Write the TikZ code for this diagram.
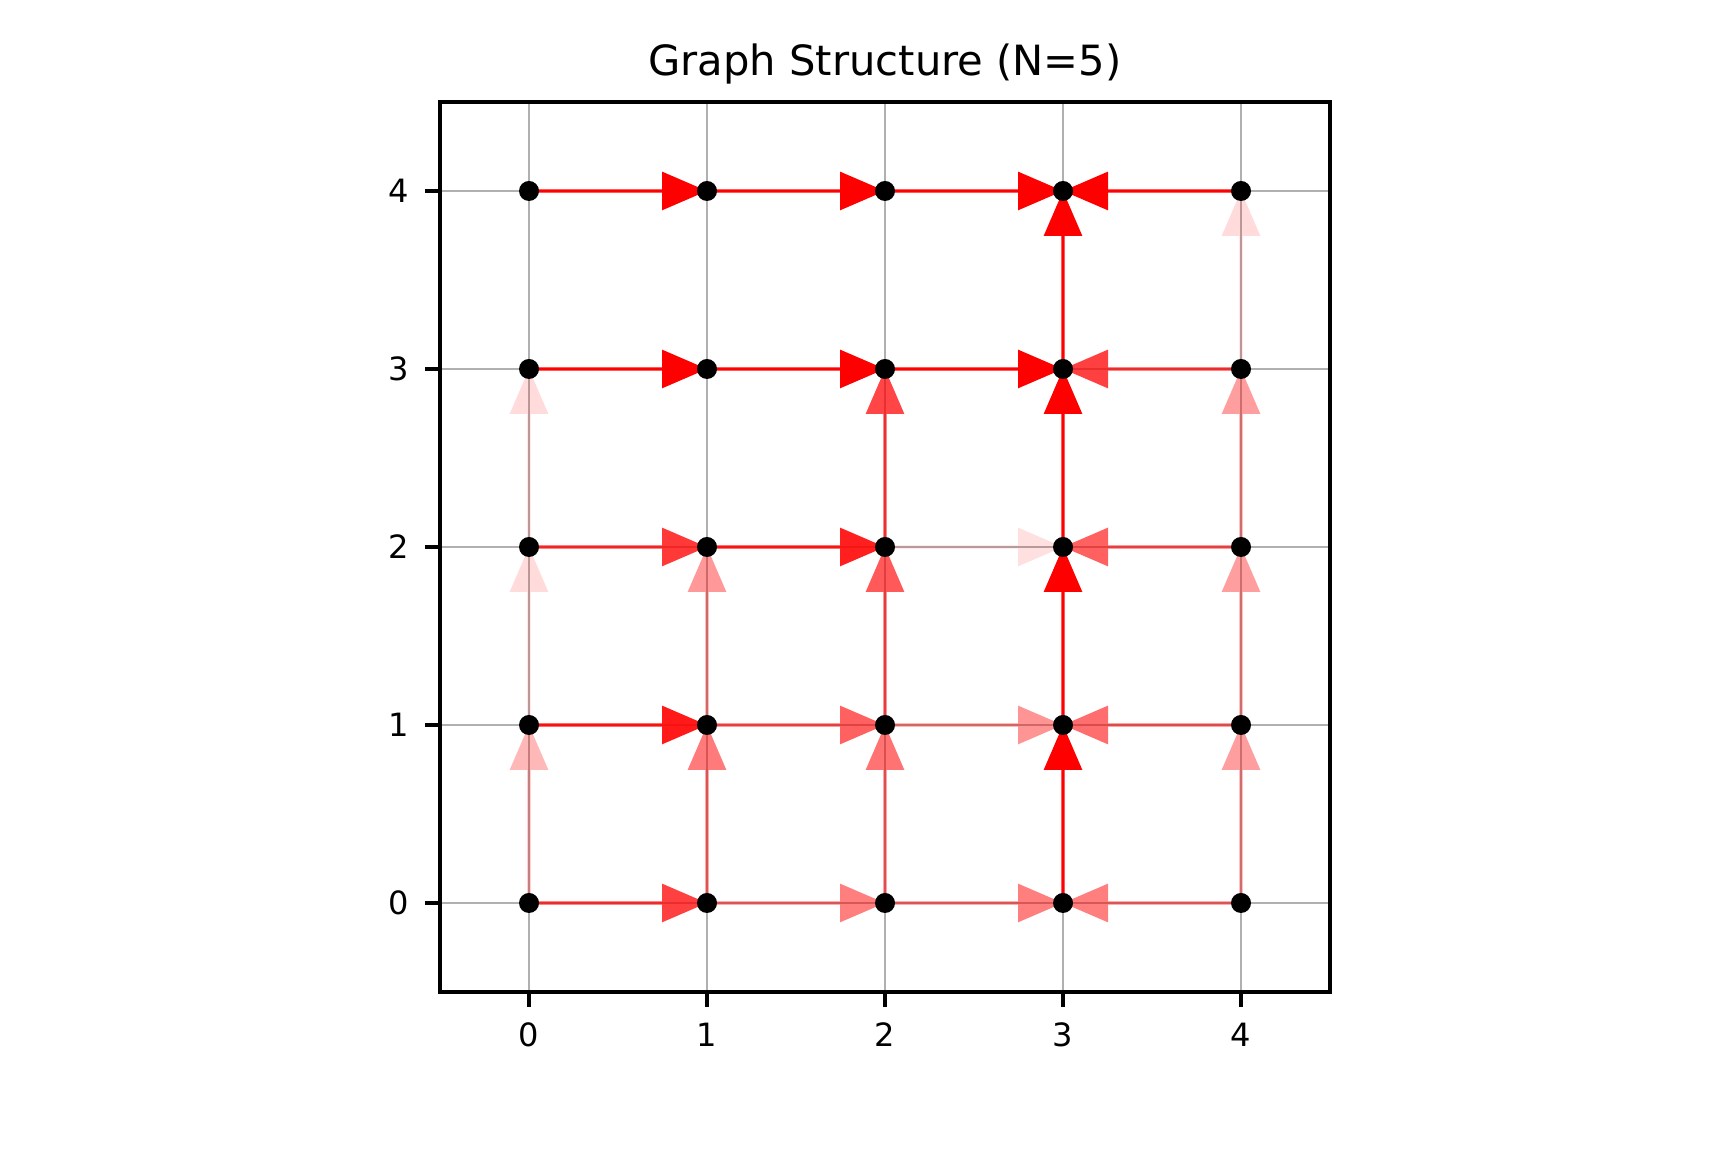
\documentclass[tikz,border=0pt]{standalone}
\usepackage{fontspec}
\setmainfont{DejaVu Sans}
\usetikzlibrary{arrows.meta}

\begin{document}
\begin{tikzpicture}[x=42.72pt, y=42.72pt,
  gridline/.style={line width=0.5pt, color=black!31},
  edge/.style={line width=0.75pt, red, -{Triangle[length=10.8pt, width=9.1pt]}},
  dot/.style={circle, fill=black, inner sep=0pt, minimum size=4.8pt},
  ticklabel/.style={inner sep=0pt, font=\fontsize{7.7}{9}\selectfont}]
\useasboundingbox (-2.972,-1.489) rectangle (6.691,5.073);
% grid points
\foreach \i in {0,...,4}
  \foreach \j in {0,...,4}
    \coordinate (v-\i-\j) at (\i,\j);
% background grid
\foreach \k in {0,...,4} {
  \draw[gridline] (\k,-0.5) -- (\k,4.5);
  \draw[gridline] (-0.5,\k) -- (4.5,\k);
}
% edges (source/target/weight), each one faded as a whole
\foreach \a/\b/\o in {0-4/1-4/1, 1-4/2-4/1, 2-4/3-4/1, 4-4/3-4/1,
                      0-3/1-3/1, 1-3/2-3/1, 2-3/3-3/1, 4-3/3-3/0.75,
                      0-2/1-2/0.78, 1-2/2-2/0.88, 2-2/3-2/0.12, 4-2/3-2/0.62,
                      0-1/1-1/0.9, 1-1/2-1/0.62, 2-1/3-1/0.42, 4-1/3-1/0.57,
                      0-0/1-0/0.75, 1-0/2-0/0.5, 2-0/3-0/0.5, 4-0/3-0/0.5,
                      0-0/0-1/0.28, 0-1/0-2/0.14, 0-2/0-3/0.14,
                      1-0/1-1/0.52, 1-1/1-2/0.4,
                      2-0/2-1/0.55, 2-1/2-2/0.65, 2-2/2-3/0.73,
                      3-0/3-1/1, 3-1/3-2/1, 3-2/3-3/1, 3-3/3-4/1,
                      4-0/4-1/0.38, 4-1/4-2/0.38, 4-2/4-3/0.38, 4-3/4-4/0.14} {
  \begin{scope}[transparency group, opacity=\o]
    \draw[edge] (v-\a) -- (v-\b);
  \end{scope}
}
% nodes
\foreach \i in {0,...,4}
  \foreach \j in {0,...,4}
    \node[dot] (n-\i-\j) at (v-\i-\j) {};
% axes frame and ticks
\draw[line width=0.8pt] (-0.5,-0.5) rectangle (4.5,4.5);
\foreach \k in {0,...,4} {
  \draw[line width=0.8pt] (\k,-0.5) -- ++(0,-3.5pt) node[below=3.5pt, ticklabel] (xt-\k) {\k};
  \draw[line width=0.8pt] (-0.5,\k) -- ++(-3.5pt,0) node[left=3.5pt, ticklabel] (yt-\k) {\k};
}
\node[anchor=base, font=\fontsize{10}{12}\selectfont] (title) at (2,4.646) {Graph Structure (N=5)};
\end{tikzpicture}
\end{document}
